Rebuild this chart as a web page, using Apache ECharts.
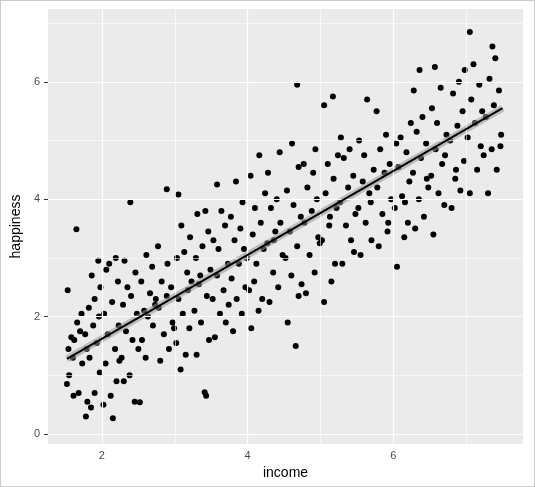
<!DOCTYPE html>
<html><head><meta charset="utf-8">
<script src="https://cdn.jsdelivr.net/npm/echarts@6/dist/echarts.min.js"></script>
<style>html,body{margin:0;padding:0;background:#fff}#c{width:535px;height:487px;box-sizing:border-box;border:1px solid #ccc}</style>
</head><body><div id="c"></div><script>
const xTicks=[2,4,6];
const yTicks=[0,2,4,6];
const xGrid=[2,3,4,5,6,7];
const yGrid=[0,1,2,3,4,5,6,7];
const fitLine=[[1.52,1.28],[7.5,5.55]];
const points=[
[1.52,0.85],[1.55,1.0],[1.6,1.3],[1.54,1.45],[1.62,1.6],[1.58,1.65],[1.7,1.75],[1.66,1.9],[1.72,2.05],[1.53,2.45],[1.65,3.49],[1.61,0.65],[1.68,0.7],[1.73,1.2],
[1.78,0.3],[1.85,0.45],[1.8,0.55],[1.9,0.7],[1.97,1.05],[1.83,1.3],[1.93,1.55],[1.77,1.7],[1.88,1.85],[1.96,2.0],[1.82,2.15],[1.9,2.3],[1.98,2.5],[1.86,2.7],[1.95,2.95],[1.79,1.45],
[2.15,0.27],[2.02,0.5],[2.12,0.65],[2.2,0.9],[2.05,1.2],[2.18,1.45],[2.08,1.7],[2.23,1.85],[2.03,2.05],[2.14,2.25],[2.22,2.6],[2.06,2.8],[2.1,2.9],[2.19,3.0],[2.24,1.25],
[2.45,0.55],[2.3,0.9],[2.38,1.0],[2.27,1.3],[2.42,1.6],[2.33,1.75],[2.48,2.05],[2.29,2.2],[2.4,2.35],[2.35,2.5],[2.46,2.75],[2.31,2.95],[2.39,3.95],[2.5,1.45],
[2.52,0.54],[2.6,1.3],[2.55,1.6],[2.7,1.85],[2.63,2.0],[2.58,2.1],[2.73,2.2],[2.66,2.4],[2.54,2.6],[2.69,2.85],[2.61,3.05],[2.74,2.3],
[2.8,1.25],[2.92,1.45],[2.85,1.7],[2.97,1.9],[2.78,2.15],[2.89,2.35],[2.95,2.5],[2.82,2.6],[2.9,2.9],[2.77,3.2],[2.89,4.17],[2.99,1.8],
[3.08,1.1],[3.15,1.35],[3.02,1.55],[3.2,1.8],[3.11,2.05],[3.05,2.3],[3.23,2.6],[3.17,2.75],[3.03,3.0],[3.13,3.1],[3.21,3.35],[3.09,3.55],[3.05,4.08],[3.18,2.45],
[3.41,0.71],[3.43,0.65],[3.3,1.35],[3.47,1.6],[3.36,1.9],[3.27,2.1],[3.44,2.35],[3.33,2.55],[3.49,2.8],[3.29,3.0],[3.38,3.2],[3.46,3.45],[3.31,3.75],[3.42,3.8],[3.35,2.7],
[3.55,1.65],[3.7,1.9],[3.62,2.05],[3.52,2.3],[3.67,2.45],[3.58,2.7],[3.73,2.9],[3.6,3.15],[3.53,3.3],[3.69,3.55],[3.64,3.8],[3.58,4.25],[3.74,2.2],
[3.8,1.75],[3.92,2.05],[3.85,2.3],[3.97,2.5],[3.78,2.65],[3.88,2.9],[3.95,3.15],[3.82,3.3],[3.9,3.5],[3.77,3.7],[3.93,3.95],[3.84,4.3],[3.99,3.0],
[4.05,1.8],[4.15,2.1],[4.2,2.3],[4.02,2.45],[4.12,2.9],[4.22,3.15],[4.07,3.4],[4.18,3.6],[4.1,3.85],[4.24,4.1],[4.04,4.4],[4.16,4.75],[4.09,2.6],
[4.3,2.25],[4.42,2.5],[4.35,2.75],[4.48,3.05],[4.27,3.25],[4.38,3.45],[4.45,3.6],[4.32,3.85],[4.4,4.0],[4.28,4.45],[4.44,4.8],[4.36,3.3],
[4.66,1.5],[4.55,1.9],[4.7,2.35],[4.6,2.7],[4.52,3.0],[4.68,3.2],[4.58,3.45],[4.73,3.7],[4.63,3.9],[4.54,4.15],[4.7,4.55],[4.61,4.95],[4.68,5.95],[4.74,2.55],
[4.8,2.4],[4.92,2.75],[4.85,3.05],[4.97,3.35],[4.78,3.6],[4.88,3.8],[4.95,4.0],[4.82,4.2],[4.9,4.45],[4.77,4.6],[4.93,4.85],[4.99,3.25],
[5.05,2.25],[5.15,2.6],[5.2,2.9],[5.02,3.3],[5.12,3.55],[5.22,3.85],[5.07,4.1],[5.18,4.35],[5.1,4.6],[5.24,4.75],[5.05,5.6],[5.17,5.75],[5.13,3.7],
[5.3,2.9],[5.42,3.3],[5.35,3.55],[5.48,3.75],[5.27,3.95],[5.38,4.2],[5.45,4.4],[5.32,4.7],[5.4,4.85],[5.28,5.05],[5.46,3.1],
[5.55,3.05],[5.7,3.3],[5.62,3.6],[5.52,3.85],[5.67,4.1],[5.58,4.3],[5.73,4.5],[5.6,4.75],[5.53,5.0],[5.64,5.7],[5.69,3.95],
[5.8,3.2],[5.92,3.45],[5.85,3.75],[5.97,4.0],[5.78,4.2],[5.88,4.45],[5.95,4.6],[5.82,4.85],[5.9,5.1],[5.77,5.5],[5.93,3.6],
[6.05,2.85],[6.15,3.35],[6.2,3.6],[6.02,3.85],[6.12,4.05],[6.22,4.3],[6.07,4.55],[6.18,4.8],[6.1,5.05],[6.24,5.3],[6.04,4.95],[6.16,3.95],
[6.3,3.5],[6.42,3.7],[6.35,4.0],[6.48,4.2],[6.27,4.45],[6.38,4.7],[6.45,4.95],[6.32,5.15],[6.4,5.4],[6.28,5.85],[6.36,6.2],[6.46,4.35],
[6.55,3.4],[6.7,3.9],[6.62,4.1],[6.52,4.4],[6.67,4.6],[6.58,4.85],[6.73,5.1],[6.6,5.3],[6.53,5.55],[6.65,5.9],[6.57,6.25],[6.71,4.75],
[6.8,3.85],[6.92,4.15],[6.85,4.35],[6.97,4.65],[6.78,5.0],[6.88,5.25],[6.95,5.5],[6.82,5.8],[6.9,6.0],[6.98,6.2],[6.86,4.5],
[7.05,4.1],[7.15,4.5],[7.2,4.9],[7.02,5.05],[7.12,5.3],[7.22,5.5],[7.07,5.7],[7.18,5.95],[7.1,6.3],[7.05,6.85],[7.24,4.75],
[7.3,4.1],[7.42,4.5],[7.35,4.85],[7.48,5.1],[7.27,5.4],[7.38,5.6],[7.45,5.85],[7.32,6.05],[7.4,6.4],[7.36,6.6],[7.47,4.9]
];
const chart=echarts.init(document.getElementById('c'));
const axisCommon={axisLine:{show:false},splitLine:{show:false},
  axisLabel:{color:'#4D4D4D',fontSize:11,fontFamily:'Liberation Sans'},
  nameTextStyle:{color:'#000',fontSize:14,fontFamily:'Liberation Sans'}};
chart.setOption({
  animation:false,
  grid:{left:42,right:11,top:8,bottom:42,show:true,backgroundColor:'#EBEBEB',borderWidth:0},
  xAxis:Object.assign({type:'value',min:1.26,max:7.78,name:'income',nameLocation:'middle',nameGap:22},axisCommon,
    {axisTick:{customValues:xTicks,length:4,lineStyle:{color:'#333'}},axisLabel:Object.assign({},axisCommon.axisLabel,{customValues:xTicks,margin:6})}),
  yAxis:Object.assign({type:'value',min:-0.17,max:7.24,name:'happiness',nameLocation:'middle',nameGap:24},axisCommon,
    {axisTick:{customValues:yTicks,length:4,lineStyle:{color:'#333'}},axisLabel:Object.assign({},axisCommon.axisLabel,{customValues:yTicks})}),
  series:[
    {type:'line',data:[],silent:true,markLine:{symbol:'none',silent:true,label:{show:false},emphasis:{disabled:true},
      data:[...xGrid.map(v=>({xAxis:v,lineStyle:{color:'#fff',opacity:1,type:'solid',width:xTicks.includes(v)?1.2:0.6}})),
            ...yGrid.map(v=>({yAxis:v,lineStyle:{color:'#fff',opacity:1,type:'solid',width:yTicks.includes(v)?1.2:0.6}}))]}},
    {type:'scatter',data:points,symbolSize:6,itemStyle:{color:'#000',opacity:1},z:3},
    {type:'line',data:fitLine,showSymbol:false,lineStyle:{color:'rgba(150,150,150,0.55)',width:7},z:4},
    {type:'line',data:fitLine,showSymbol:false,lineStyle:{color:'#000',width:2},z:5}
  ]
});
</script></body></html>
